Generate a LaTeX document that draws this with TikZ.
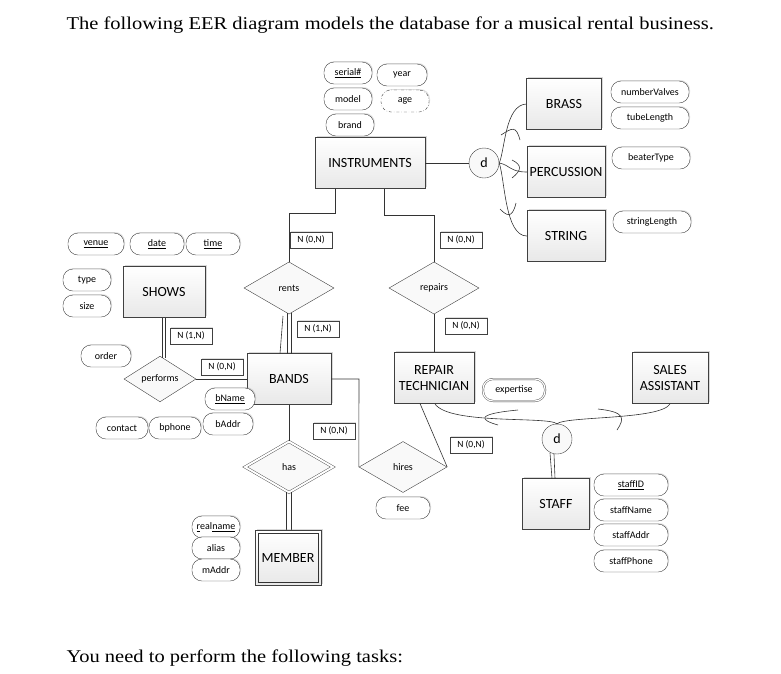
\documentclass[tikz,border=0pt]{standalone}
\usepackage{fontspec}
\setmainfont{Carlito}
\newfontfamily\ttl[FakeStretch=1.14]{Liberation Serif}
\usetikzlibrary{shapes.geometric,shadows}
\begin{document}
\begin{tikzpicture}[x=1pt,y=-1pt,
 ent/.style={draw=black!75,top color=white,bottom color=gray!18,minimum width=#1,minimum height=51,inner sep=1pt,align=center,font=\fontsize{14}{16}\selectfont,drop shadow={opacity=0.3,shadow xshift=1.5,shadow yshift=-1.5}},
 att/.style={draw=black!75,fill=white,rounded corners=10,minimum width=#1,minimum height=22,inner sep=1pt,font=\fontsize{10}{11}\selectfont,drop shadow={opacity=0.25,shadow xshift=1,shadow yshift=-1}},
 rel/.style={diamond,draw=black!75,fill=gray!5,minimum width=#1,minimum height=0.58*#1,inner sep=0pt,font=\fontsize{10}{11}\selectfont},
 card/.style={draw=black!75,fill=white,minimum width=42,minimum height=16,inner sep=1pt,font=\fontsize{9.5}{10}\selectfont,drop shadow={opacity=0.25,shadow xshift=1,shadow yshift=-1}},
 dc/.style={circle,draw=black!75,fill=gray!5,minimum size=30,inner sep=0pt,font=\fontsize{14}{15}\selectfont},
 ln/.style={draw=black!80,line width=0.6}]
\useasboundingbox (0,0) rectangle (781,673);
\node[anchor=west,font=\ttl\fontsize{18}{20}\selectfont] (title) at (63,25) {The following EER diagram models the database for a musical rental business.};
\node[anchor=west,font=\ttl\fontsize{18}{20}\selectfont] (foot) at (63,658) {You need to perform the following tasks:};
% instruments
\node[att=48] (serial) at (348,73) {\underline{serial\#}};
\node[att=50] (year) at (402,75) {year};
\node[att=48] (model) at (348,99) {model};
\node[att=48,dash dot] (age) at (405,101) {age};
\node[att=48] (brand) at (350,125) {brand};
\node[ent=110] (inst) at (370,163) {INSTRUMENTS};
\node[dc] (d1) at (484,163) {d};
\node[ent=75] (brass) at (564,104) {BRASS};
\node[att=78] (nv) at (650,92) {numberValves};
\node[att=78] (tl) at (650,118) {tubeLength};
\node[ent=78] (perc) at (566,172) {PERCUSSION};
\node[att=78] (bt) at (651,158) {beaterType};
\node[ent=78] (str) at (566,236) {STRING};
\node[att=78] (sl) at (652,222) {stringLength};
\draw[ln] (inst) -- (d1);
\draw[ln] (d1.east) .. controls (505,150) and (505,105) .. (brass.west);
\draw[ln] (d1.east) .. controls (510,165) and (510,172) .. (perc.west);
\draw[ln] (d1.east) .. controls (505,180) and (505,236) .. (str.west);
\draw[ln] (501,135) .. controls (512,128) and (516,125) .. (520,140);
\draw[ln] (512,160) .. controls (522,165) and (522,170) .. (512,178);
\draw[ln] (500,209) .. controls (506,215) and (512,220) .. (516,203);
% left
\node[att=56] (venue) at (96,244) {\underline{venue}};
\node[att=54] (date) at (157,244) {\underline{date}};
\node[att=54] (time) at (213,244) {\underline{time}};
\node[att=48] (type) at (87,280) {type};
\node[att=48] (size) at (87,306) {size};
\node[ent=82] (shows) at (164,292) {SHOWS};
\node[card] (c1) at (311,240) {N (0,N)};
\node[card] (c2) at (461,240) {N (0,N)};
\node[rel=90] (rents) at (289,288) {rents};
\node[rel=90] (repairs) at (434,288) {repairs};
\draw[ln] (335,188.5) -- (335,213) -- (289,213) -- (rents.north);
\draw[ln] (384,188.5) -- (384,215) -- (434,215) -- (repairs.north);
\node[card] (c3) at (318,329) {N (1,N)};
\node[card] (c4) at (466,326) {N (0,N)};
\node[ent=84] (bands) at (289,379) {BANDS};
\draw[ln] (287,313) -- (287,353.5) (291,313) -- (291,353.5);
\draw[ln] (283,316) -- (280,353.5);
\node[ent=80] (rt) at (434,378) {REPAIR\\TECHNICIAN};
\draw[ln] (repairs.south) -- (rt.north);
\node[att=62,double,double distance=1.2] (exp) at (514,390) {expertise};
\node[ent=76] (sa) at (670,378) {SALES\\ASSISTANT};
\node[dc] (d2) at (557,439) {d};
\node[ent=67] (staff) at (556,504) {STAFF};
\node[att=74] (sid) at (631,485) {\underline{staffID}};
\node[att=74] (sn) at (631,510) {staffName};
\node[att=74] (saddr) at (631,535) {staffAddr};
\node[att=74] (sph) at (631,561) {staffPhone};
\draw[ln] (550,453) -- (552,478.5) (554,454) -- (555,478.5);
\draw[ln] (d2.north) .. controls (548,416) and (450,425) .. (435,404);
\draw[ln] (d2.north) .. controls (566,416) and (660,420) .. (670,404);
\draw[ln] (498,425) .. controls (480,420) and (475,414) .. (518,410);
\draw[ln] (598,409) .. controls (625,412) and (625,418) .. (617,430);
% performs
\node[rel=72] (perf) at (160,379) {performs};
\draw[ln] (162,318) -- (162,358) (165.5,318) -- (165.5,358);
\node[card] (c5) at (191,336) {N (1,N)};
\node[att=50] (order) at (106,356) {order};
\node[card] (c6) at (222,367) {N (0,N)};
\draw[ln] (perf.east) -- (bands.west);
\node[att=50] (bname) at (230,399) {\underline{bName}};
\node[att=50] (baddr) at (228,424) {bAddr};
\node[att=52] (contact) at (122,428) {contact};
\node[att=52] (bphone) at (175,428) {bphone};
% hires
\node[rel=88] (hires) at (403,467) {hires};
\draw[ln] (331,379) -- (359,379) -- (hires.west);
\draw[ln] (420,403.5) -- (hires.east);
\node[card] (c7) at (334,431) {N (0,N)};
\node[card] (c8) at (471,445) {N (0,N)};
\node[att=54] (fee) at (403,508) {fee};
% has / member
\node[rel=88,double,double distance=2] (has) at (289,467) {has};
\draw[ln] (bands.south) -- (has.north);
\draw[ln] (286.5,492) -- (286.5,530.5) (291.5,492) -- (291.5,530.5);
\node[ent=66,minimum height=55] (mem) at (288,558) {MEMBER};
\draw[ln] ([shift={(3,-3)}]mem.south west) rectangle ([shift={(-3,3)}]mem.north east);
\node[att=48] (rn) at (216,527) {\underline{r}eal\underline{name}};
\node[att=48] (alias) at (216,548) {alias};
\node[att=48] (maddr) at (216,570) {mAddr};
\end{tikzpicture}
\end{document}
